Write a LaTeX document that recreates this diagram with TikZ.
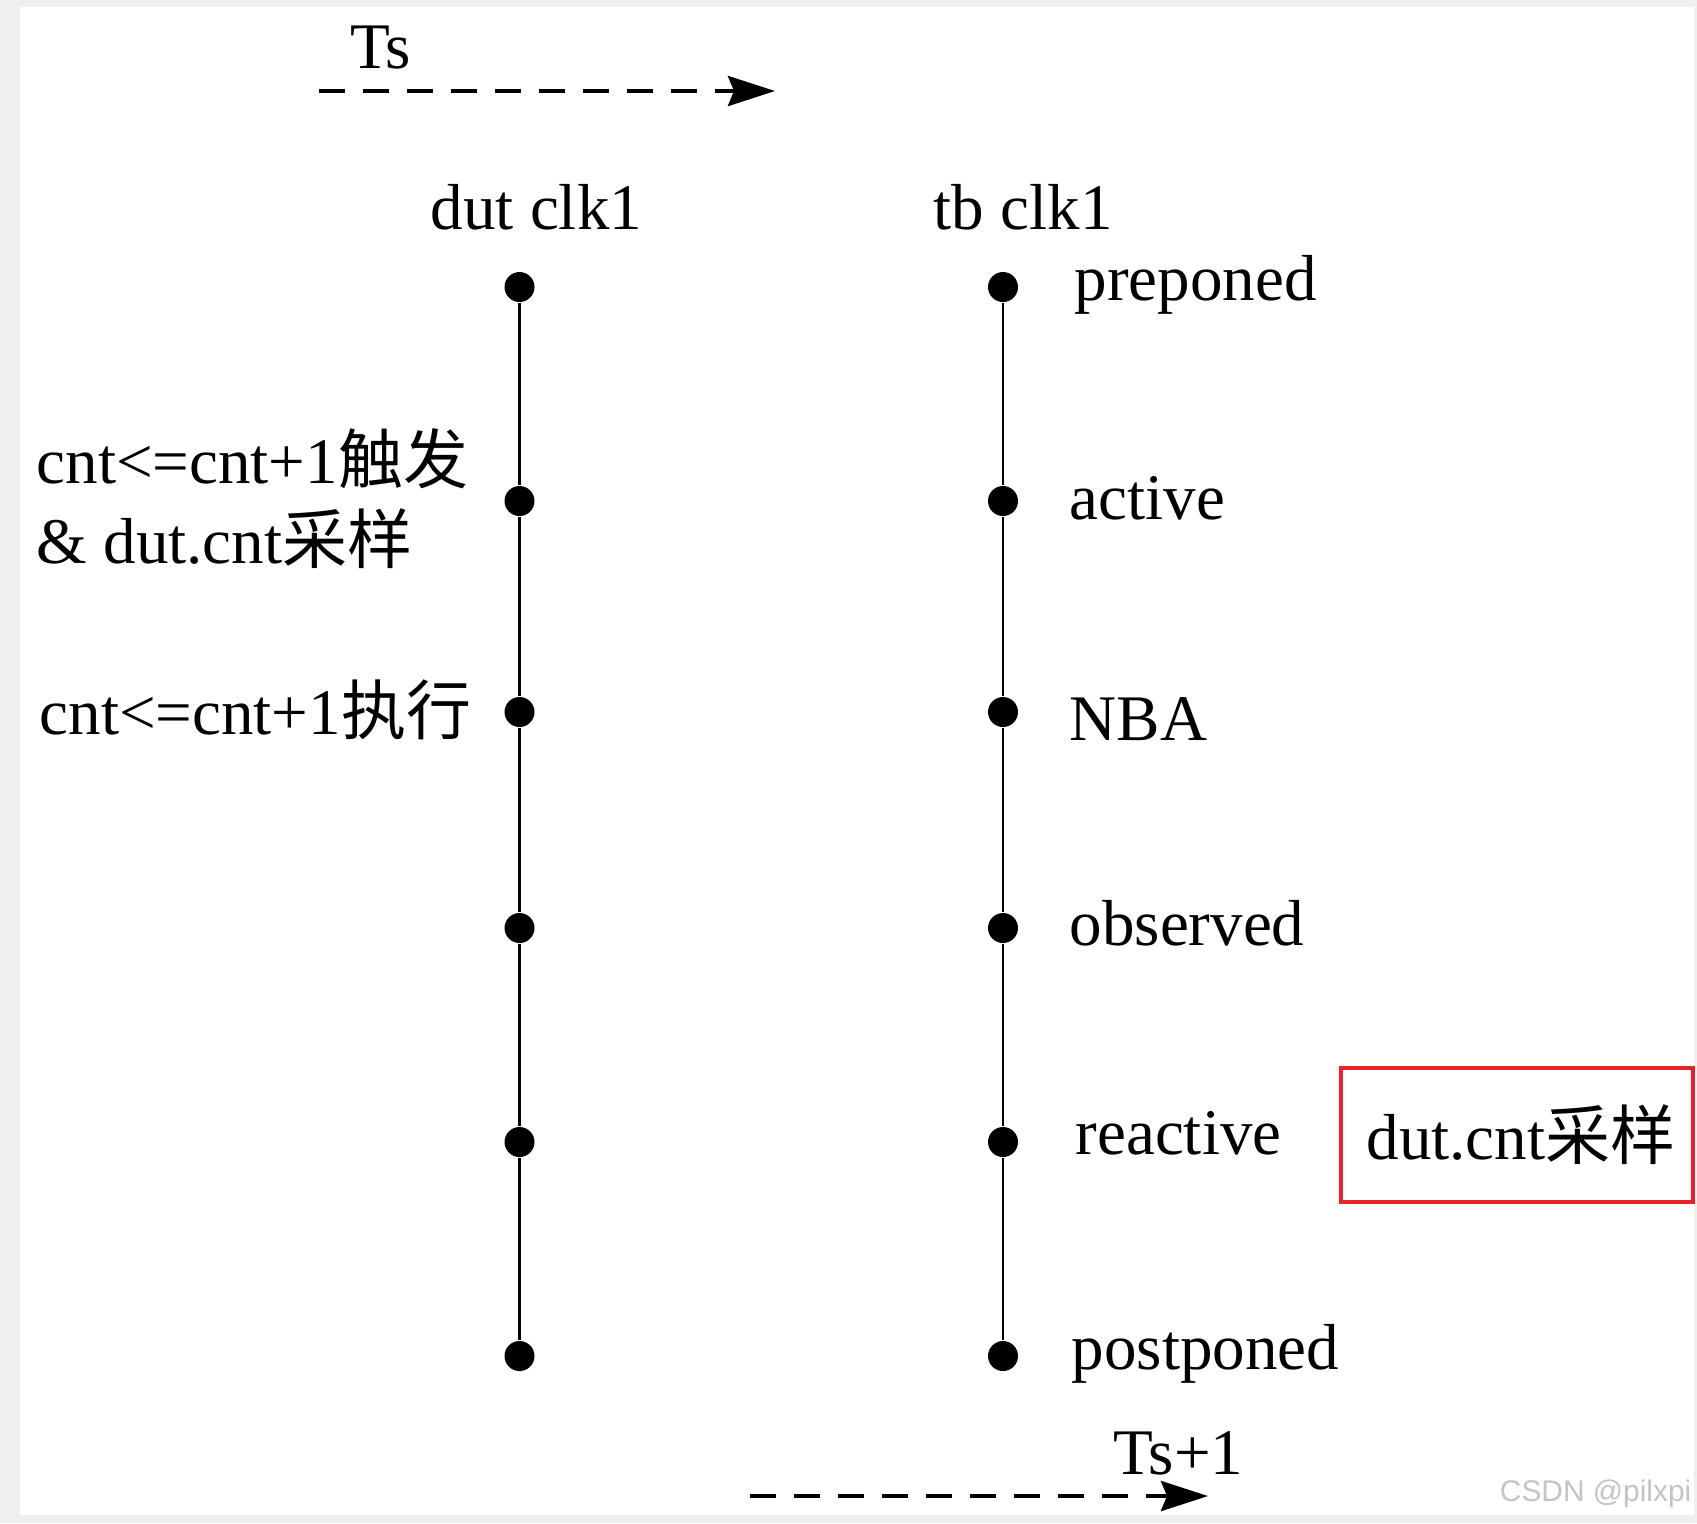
\documentclass[tikz,border=0pt]{standalone}
\usepackage{fontspec}
\setmainfont{Liberation Serif}
\setsansfont{Liberation Sans}
\newfontfamily\cjk{Noto Sans CJK SC}
\usetikzlibrary{arrows.meta, positioning}
\definecolor{pagegray}{HTML}{EFEFEF}
\definecolor{boxred}{HTML}{E8212B}
\definecolor{wmgray}{HTML}{C4C4C4}

\begin{document}
\begin{tikzpicture}[
  evt/.style={circle, fill=black, inner sep=0pt, minimum size=0.30cm},
  tl/.style={black, line width=0.8pt},
  phase/.style={font=\fontsize{18.5}{22.5}\selectfont, inner sep=0pt,
                anchor=base west},
  tarrow/.style={-{Stealth[length=0.47cm, width=0.30cm, inset=0.06cm]},
                 line width=1.2pt, dash pattern=on 0.26cm off 0.18cm},
  samplebox/.style={draw=boxred, line width=0.9pt, minimum width=3.52cm,
                    minimum height=1.34cm, inner sep=0pt,
                    font=\fontsize{18.5}{22.5}\selectfont},
]
\useasboundingbox (0,0) rectangle (16.97,-15.23);

% page background
\fill[pagegray] (0,0) rectangle (16.97,-15.23);
\fill[white] (0.20,-0.07) rectangle (16.94,-15.15);

% time step arrows
\node[phase] (ts) at (3.50,-0.68) {Ts};
\coordinate (tsA) at (3.19,-0.91);
\coordinate (tsB) at (7.75,-0.91);
\draw[tarrow] (tsA) -- (tsB);

\node[phase] (tsnext) at (11.13,-14.74) {Ts+1};
\coordinate (tnA) at (7.50,-14.96);
\coordinate (tnB) at (12.08,-14.96);
\draw[tarrow] (tnA) -- (tnB);

% clock headers
\node[phase] (clkdut) at (4.30,-2.29) {dut clk1};
\node[phase] (clktb) at (9.33,-2.29) {tb clk1};

% dut clk1 events
\node[evt] (d1) at (5.195,-2.87) {};
\node[evt] (d2) at (5.195,-5.01) {};
\node[evt] (d3) at (5.195,-7.12) {};
\node[evt] (d4) at (5.195,-9.28) {};
\node[evt] (d5) at (5.195,-11.42) {};
\node[evt] (d6) at (5.195,-13.56) {};
\draw[tl] (d1) -- (d2) -- (d3) -- (d4) -- (d5) -- (d6);

% tb clk1 events
\node[evt] (t1) at (10.03,-2.87) {};
\node[evt] (t2) at (10.03,-5.01) {};
\node[evt] (t3) at (10.03,-7.12) {};
\node[evt] (t4) at (10.03,-9.28) {};
\node[evt] (t5) at (10.03,-11.42) {};
\node[evt] (t6) at (10.03,-13.56) {};
\draw[tl] (t1) -- (t2) -- (t3) -- (t4) -- (t5) -- (t6);

% region names
\node[phase] (preponed) at (10.74,-3.00) {preponed};
\node[phase] (active) at (10.69,-5.19) {active};
\node[phase] (nba) at (10.69,-7.40) {NBA};
\node[phase] (observed) at (10.69,-9.45) {observed};
\node[phase] (reactive) at (10.75,-11.54) {reactive};
\node[phase] (postponed) at (10.71,-13.69) {postponed};

% dut side notes
\node[phase] (trigA) at (0.36,-4.83) {cnt<=cnt+1{\cjk 触发}};
\node[phase] (trigB) at (0.36,-5.63) {\& dut.cnt{\cjk 采样}};
\node[phase] (exec) at (0.39,-7.34) {cnt<=cnt+1{\cjk 执行}};

% tb sample
\node[samplebox] (smp) at (15.17,-11.35) {\hspace{0.08cm}dut.cnt{\cjk 采样}};

% watermark
\node[font=\sffamily\fontsize{8.5}{10}\selectfont, text=wmgray, anchor=east,
      inner sep=0pt] (wm) at (16.92,-14.94) {CSDN @pilxpi};

\end{tikzpicture}
\end{document}
